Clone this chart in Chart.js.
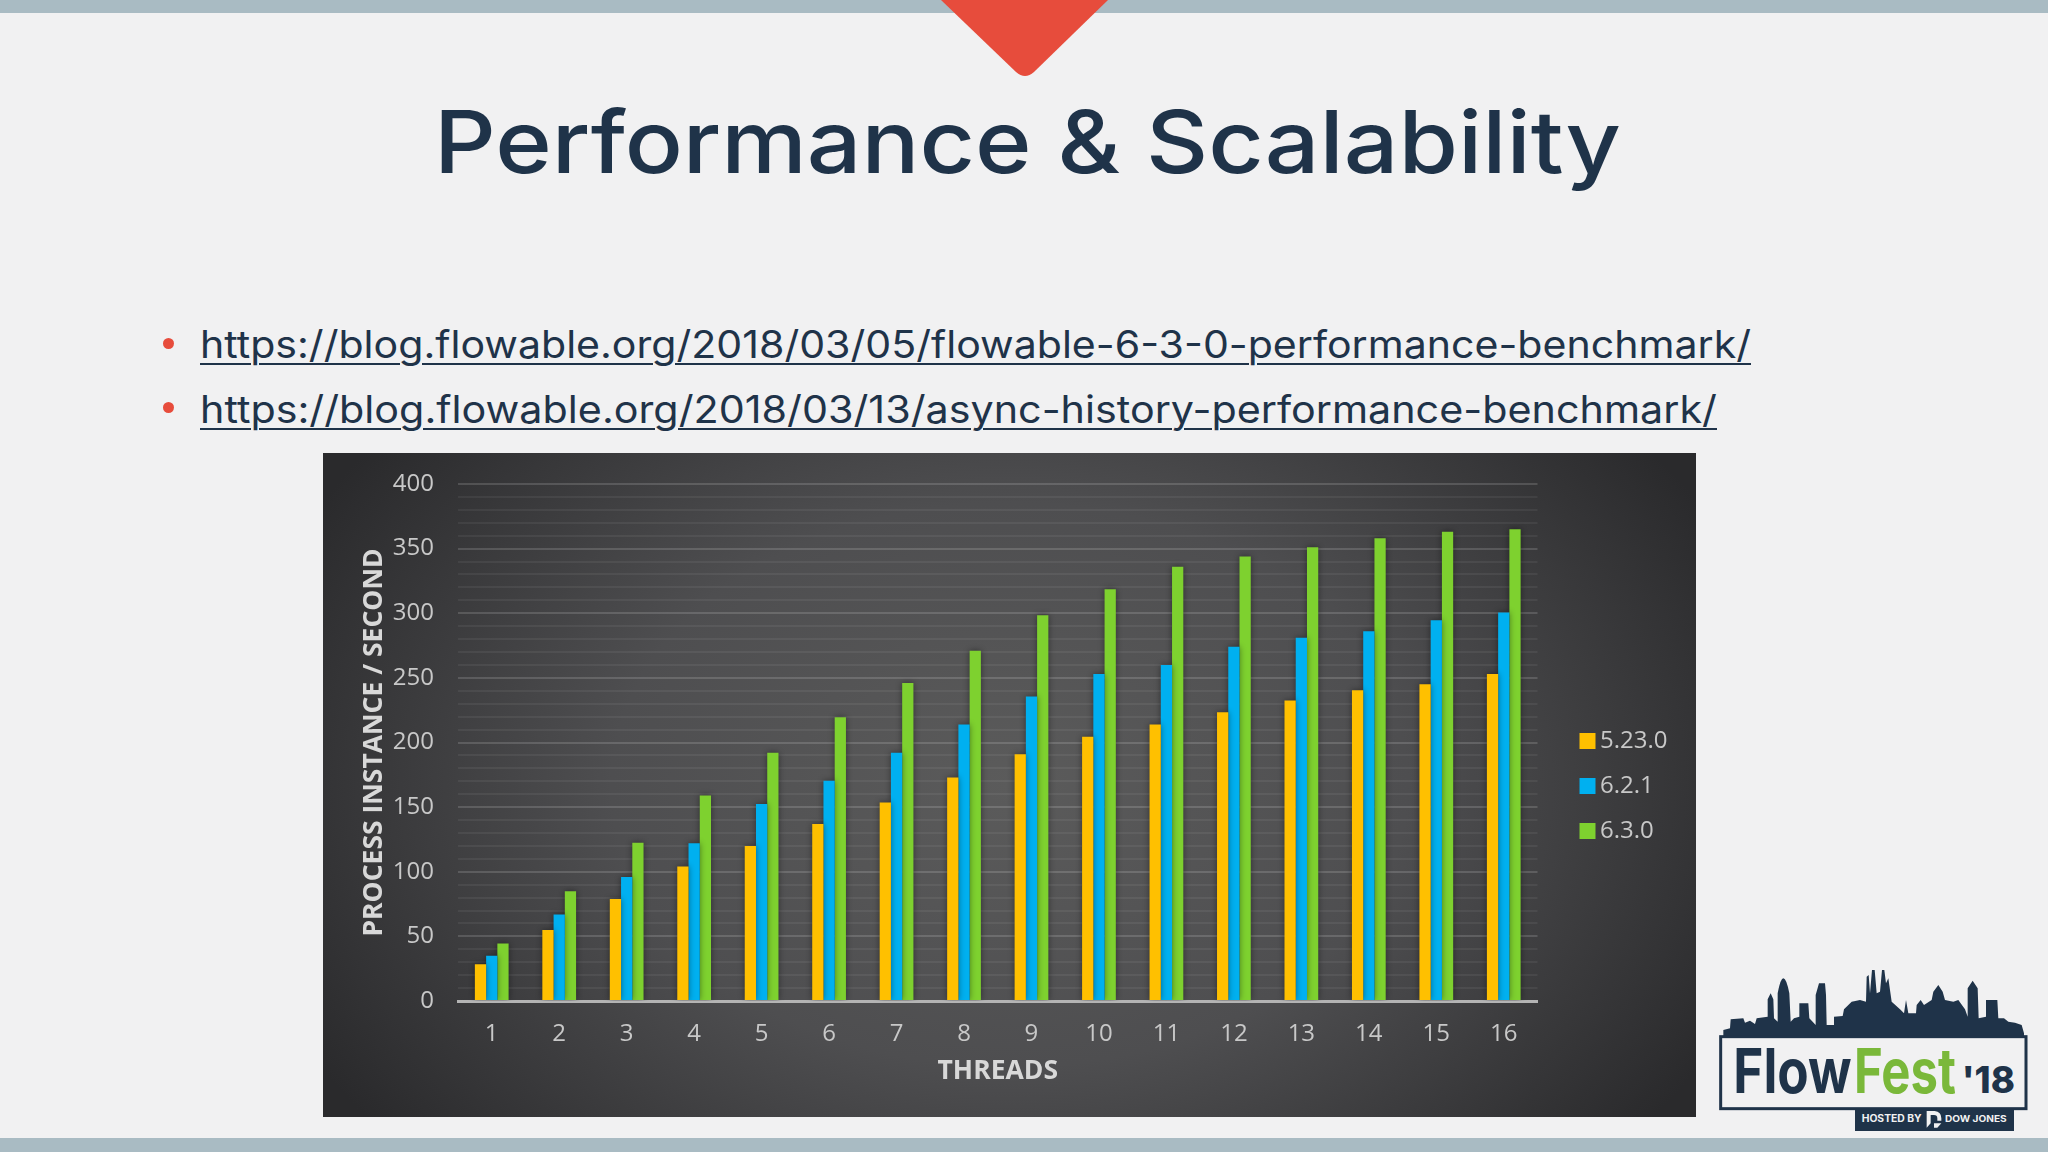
<!DOCTYPE html>
<html>
<head>
<meta charset="utf-8">
<title>Performance & Scalability</title>
<script src="https://cdn.jsdelivr.net/npm/chart.js@4"></script>
<style>
html, body { margin: 0; padding: 0; }
body { width: 2048px; height: 1152px; background: #f1f1f2; position: relative; overflow: hidden; font-family: Inter, sans-serif; color: #1f3349; }
.bar { position: absolute; left: 0; width: 2048px; background: #a9bbc3; }
.bar.top { top: 0; height: 13px; }
.bar.bottom { top: 1138px; height: 14px; }
#notch { position: absolute; left: 0; top: 0; }
#title { position: absolute; left: 434px; top: 87px; font-size: 87px; line-height: 110px; white-space: nowrap; font-weight: 500; transform-origin: left center; }
.link { position: absolute; left: 200px; font-size: 38px; line-height: 50px; white-space: nowrap; color: #1f3349; text-decoration: underline; text-decoration-thickness: 2px; text-underline-offset: 5px; transform-origin: left center; }
.dot { position: absolute; left: 163px; width: 11px; height: 11px; border-radius: 50%; background: #e74c3c; }
#chart { position: absolute; left: 323px; top: 453px; width: 1373px; height: 664px;
  background: radial-gradient(ellipse 58% 85% at 50% 50%, #5b5b5b 0%, #4e4e50 50%, #2a2a2c 100%); }
#logo { position: absolute; left: 1700px; top: 950px; }
</style>
</head>
<body>
<div class="bar top"></div>
<div class="bar bottom"></div>
<svg id="notch" width="2048" height="90"><path d="M941 0 L1108 0 L1034 72 Q1025 80 1016 72 Z" fill="#e74c3c"/></svg>

<div id="title" data-w="1187">Performance &amp; Scalability</div>
<div class="dot" style="top:338px"></div>
<a class="link" style="top:319px" data-w="1551">https://blog.flowable.org/2018/03/05/flowable-6-3-0-performance-benchmark/</a>
<div class="dot" style="top:402px"></div>
<a class="link" style="top:384px" data-w="1517">https://blog.flowable.org/2018/03/13/async-history-performance-benchmark/</a>

<canvas id="chart" width="1373" height="664"></canvas>

<svg id="logo" width="348" height="202" viewBox="0 0 1044 606">
  <path fill="#1f3349" d="M70 262 L70 240 L90 235 L92 208 L130 205 L135 218 L150 212 L165 222 L170 205 L203 200 L203 148 L212 130 L220 148 L222 205 L233 215 L233 130 Q250 40 268 130 L272 215 L282 205 L298 200 L298 160 L325 160 L328 205 L347 225 L347 135 L357 100 L375 100 L378 135 L380 225 L402 225 L402 200 L428 198 L432 178 L455 155 L480 150 L498 155 L500 80 L506 75 L510 130 L516 60 L524 60 L530 130 L540 125 L546 60 L553 60 L558 100 L565 85 L575 155 L600 178 L612 190 L618 150 L625 190 L648 190 L650 165 L662 150 L672 165 L695 150 L700 125 L715 105 L728 125 L735 150 L760 155 L775 150 L795 178 L803 200 L803 115 L818 92 L833 115 L836 205 L858 200 L858 150 L892 150 L895 205 L912 205 L925 215 L945 218 L965 225 L972 250 L972 262 Z"/>
  <rect x="62" y="260" width="916" height="216" fill="none" stroke="#1f3349" stroke-width="9"/>
  <text x="100" y="430" font-family="Inter" font-weight="700" font-size="186" fill="#1f3349" textLength="355" lengthAdjust="spacingAndGlyphs">Flow</text>
  <text x="462" y="428" font-family="Inter" font-weight="700" font-size="186" fill="#7ab83a" textLength="306" lengthAdjust="spacingAndGlyphs">Fest</text>
  <text x="785" y="428" font-family="Inter" font-weight="800" font-size="110" fill="#1f3349" textLength="160" lengthAdjust="spacingAndGlyphs">'18</text>
  <rect x="465" y="478" width="477" height="65" fill="#1f3349"/>
  <text x="485" y="517" font-family="Inter" font-weight="700" font-size="29" fill="#f1f1f2" textLength="180" lengthAdjust="spacingAndGlyphs">HOSTED BY</text>
  <path fill="#f1f1f2" d="M680 483 L704 483 Q724 485 724 505 L724 512 L712 512 L712 505 Q712 495 702 495 L692 495 L692 520 L680 533 Z M702 520 L724 520 L712 533 L702 533 Z"/>
  <text x="735" y="517" font-family="Inter" font-weight="700" font-size="27" fill="#f1f1f2" textLength="185" lengthAdjust="spacingAndGlyphs">DOW JONES</text>
</svg>

<script>
const threads = ['1', '2', '3', '4', '5', '6', '7', '8', '9', '10', '11', '12', '13', '14', '15', '16']
const seriesNames = ['5.23.0', '6.2.1', '6.3.0']
const flowable5230 = [28.5, 55, 79, 104, 120, 137, 153.5, 173, 191, 204.5, 214, 223.5, 232.5, 240.5, 245, 253]
const flowable621 = [35, 67, 96, 122, 152.5, 170.5, 192, 214, 235.5, 253, 260, 274, 281, 286, 294.5, 300.5]
const flowable630 = [44.5, 85, 122.5, 159, 192, 219.5, 246, 271, 298.5, 318.5, 336, 344, 351, 358, 363, 365]
const barColors = ['#ffc000', '#00b0f0', '#7ed12f']

// the fonts here are narrower than the slide font, so stretch the text to the same width
document.querySelectorAll('[data-w]').forEach(el => {
    const box = document.createElement('span')
    box.textContent = el.textContent
    box.style.cssText = 'visibility:hidden;position:absolute;white-space:nowrap;font:' + getComputedStyle(el).font
    document.body.appendChild(box)
    el.style.transform = 'scaleX(' + Number(el.dataset.w) / box.getBoundingClientRect().width + ')'
    box.remove()
})

const axisFont = 'Open Sans'
const tickColor = '#c8c8c8'
const legendPadding = 21

// soft shadow round the bars
const barShadow = {
    id: 'barShadow',
    beforeDatasetsDraw(chart) {
        chart.ctx.save()
        chart.ctx.shadowColor = 'rgba(0,0,0,0.45)'
        chart.ctx.shadowBlur = 6
    },
    afterDatasetsDraw(chart) {
        chart.ctx.restore()
    }
}

// the legend sits lower than centre and away from the plot
const placeLegend = {
    id: 'placeLegend',
    afterLayout(chart) {
        chart.legend.left = 1258 - legendPadding + 6
        chart.legend.right = chart.width
        chart.legend.top = 255
    }
}

const ctx = document.getElementById('chart').getContext('2d')

new Chart(ctx, {
    type: 'bar',
    data: {
        labels: threads,
        datasets: [flowable5230, flowable621, flowable630].map((values, i) => ({
            label: seriesNames[i],
            data: values,
            backgroundColor: barColors[i],
            borderWidth: 0,
            categoryPercentage: 0.5,
            barPercentage: 1
        }))
    },
    options: {
        responsive: false,
        animation: false,
        layout: { padding: { top: 31, right: 47 } },
        plugins: {
            tooltip: { enabled: false },
            legend: {
                position: 'right',
                align: 'start',
                labels: {
                    font: { family: axisFont, size: 24 },
                    color: tickColor,
                    usePointStyle: true,
                    pointStyle: 'rect',
                    boxWidth: 1,
                    boxHeight: 16,
                    padding: legendPadding
                }
            }
        },
        scales: {
            x: {
                afterFit: scale => { scale.height = 116 },
                grid: { display: false },
                border: { display: true, color: '#b4b4b4', width: 3 },
                ticks: { font: { family: axisFont, size: 24 }, color: tickColor, padding: 11, maxRotation: 0 },
                title: {
                    display: true,
                    text: 'THREADS',
                    color: '#d8d8d8',
                    font: { family: axisFont, size: 26.5, weight: 'bold' },
                    padding: { top: 0, bottom: 30 }
                }
            },
            y: {
                min: 0,
                max: 400,
                afterFit: scale => {
                    scale.width = 135
                    scale.paddingTop = 0
                    scale.paddingBottom = 0
                },
                border: { display: false },
                grid: {
                    drawTicks: false,
                    lineWidth: 2,
                    color: c => c.tick.value % 50 === 0 ? 'rgba(255,255,255,0.15)' : 'rgba(255,255,255,0.06)'
                },
                ticks: {
                    stepSize: 10,
                    autoSkip: false,
                    padding: 24,
                    font: { family: axisFont, size: 24 },
                    color: tickColor,
                    callback: value => value % 50 === 0 ? value : ''
                },
                title: {
                    display: true,
                    text: 'PROCESS INSTANCE / SECOND',
                    color: '#d8d8d8',
                    font: { family: axisFont, size: 26.5, weight: 'bold' },
                    padding: { top: 36, bottom: 0 }
                }
            }
        }
    },
    plugins: [barShadow, placeLegend]
})
</script>
</body>
</html>
